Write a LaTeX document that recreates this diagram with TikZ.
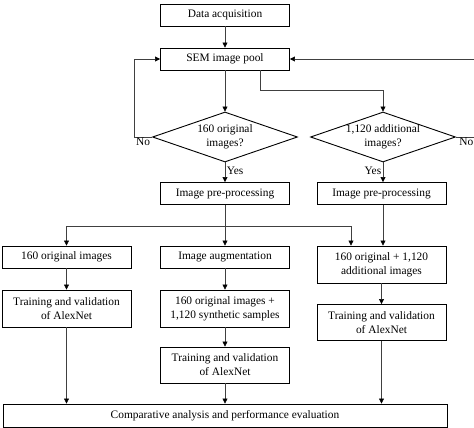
\documentclass[tikz,border=0pt]{standalone}
\usepackage{fontspec}
\setmainfont{Liberation Serif}
\usetikzlibrary{shapes.geometric,arrows.meta}

\begin{document}
\begin{tikzpicture}[x=1pt, y=-1pt,
    font=\fontsize{11.4}{14}\selectfont,
    block/.style={rectangle, draw, line width=0.9pt, minimum width=129pt, minimum height=22pt, align=center, inner sep=2pt},
    decision/.style={diamond, draw, line width=0.9pt, aspect=2.9, minimum width=145pt, minimum height=50pt, inner sep=0pt, align=center},
    arrow/.style={draw=black!75, line width=0.6pt, -{Triangle[length=5pt,width=5pt,color=black]}}]

\useasboundingbox (0,0) rectangle (474,428);

% Top of the flow
\node[block] (acq) at (225,15) {Data acquisition};
\node[block] (pool) at (225,59) {SEM image pool};

% the two checks
\node[decision] (dec1) at (225,137) {160 original\\images?};
\node[decision] (dec2) at (383,137) {1,120 additional\\images?};

\node[block] (prep1) at (225,193.5) {Image pre-processing};
\node[block] (prep2) at (381.5,193.5) {Image pre-processing};

% Data sets
\node[block] (orig) at (66.5,257) {160 original images};
\node[block] (aug) at (225,257) {Image augmentation};
\node[block, minimum height=37pt] (comb) at (381.5,264.5) {160 original + 1,120\\additional images};

% Training boxes
\node[block, minimum height=37pt] (train1) at (66.5,308.5) {Training and validation\\of AlexNet};
\node[block, minimum height=37pt] (synth) at (225,308.5) {160 original images +\\1,120 synthetic samples};
\node[block, minimum height=36pt] (train3) at (381.5,322.5) {Training and validation\\of AlexNet};
\node[block, minimum height=36pt] (train2) at (225,365) {Training and validation\\of AlexNet};

\node[block, minimum width=444pt, minimum height=23pt] (final) at (225,415.5) {Comparative analysis and performance evaluation};

% Connectors
\coordinate (split) at (260,90);
\coordinate (fork) at (225,226);

\draw[arrow] (acq) -- (pool);
\draw[arrow] (pool) -- (dec1);
\draw[arrow] (split |- pool.south) -- (split) -| (dec2.north);

\draw[arrow] (dec1.west) -- node[below, inner sep=1pt] {No} ++(-18,0) |- (pool.west);
\draw[arrow] (dec2.east) -- node[below, inner sep=1pt] {No} ++(21,0) |- (pool.east);

\draw[arrow] (dec1) -- node[right, inner sep=1.5pt, pos=0.45] {Yes} (prep1);
\draw[arrow] (dec2) -- node[left, inner sep=1.5pt, pos=0.45] {Yes} (dec2.south |- prep2.north);

\draw[arrow] (prep1) -- (aug);
\draw[arrow] (fork) -| (orig.north);
\draw[arrow] (fork) -| ([xshift=-30.5pt]comb.north);
\draw[arrow] (dec2.south |- prep2.south) -- (dec2.south |- comb.north);

\draw[arrow] (orig) -- (train1);
\draw[arrow] (aug) -- (synth);
\draw[arrow] (synth) -- (train2);
\draw[arrow] (comb) -- (train3);

% into the last box
\foreach \n in {train1, train2, train3} {
    \draw[arrow] (\n.south) -- (\n.south |- final.north);
}
\end{tikzpicture}
\end{document}
